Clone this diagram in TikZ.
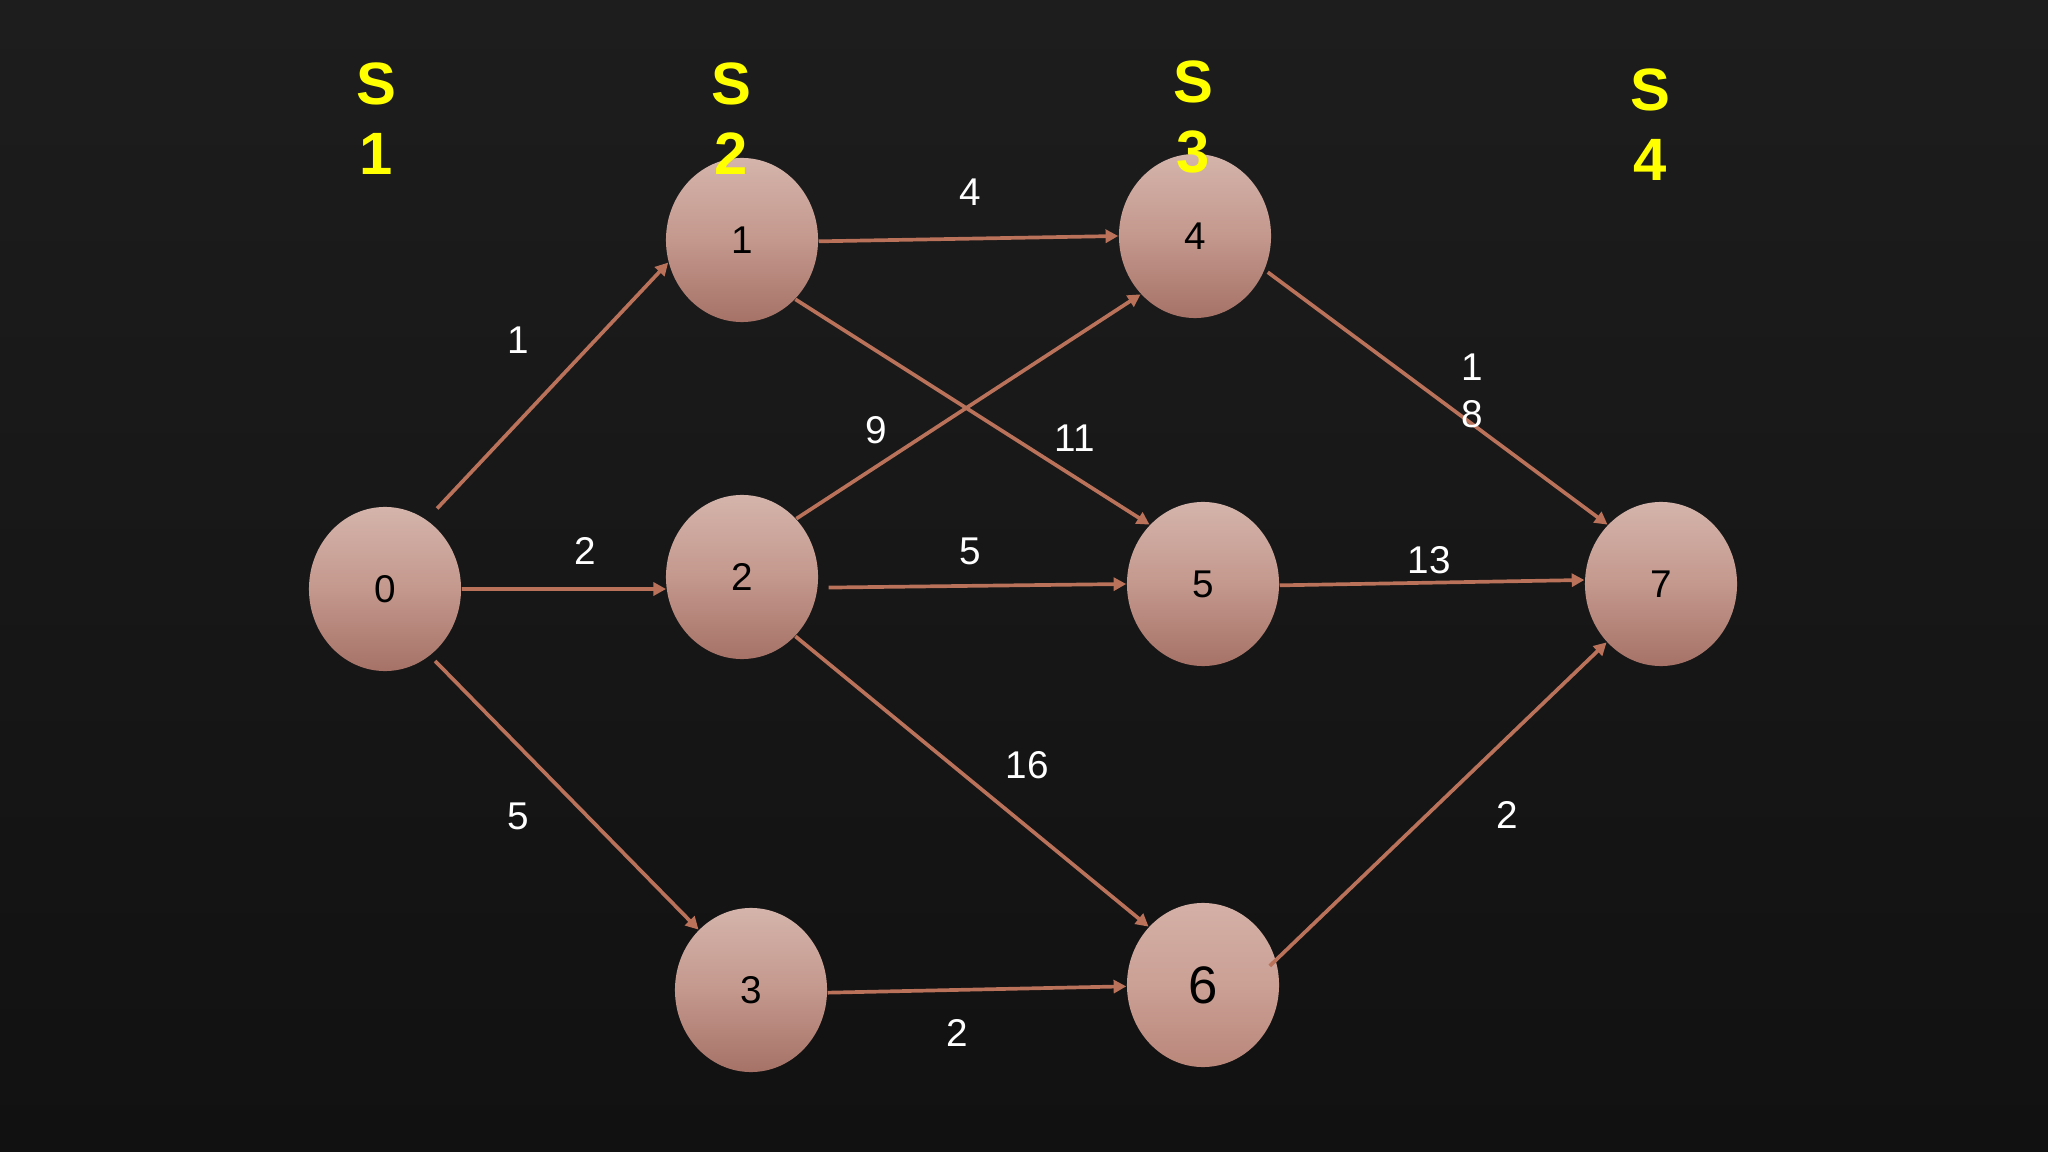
\documentclass[tikz,border=0pt]{standalone}
\usepackage{fontspec}
\setmainfont{Liberation Sans}
\usetikzlibrary{shapes.geometric,arrows.meta}
\definecolor{bgtop}{RGB}{29,29,29}
\definecolor{bgbot}{RGB}{17,17,17}
\definecolor{edgec}{RGB}{186,114,90}
\definecolor{ntop}{RGB}{212,180,171}
\definecolor{nmid}{RGB}{196,152,141}
\definecolor{nbot}{RGB}{166,114,103}
\definecolor{nsixtop}{RGB}{212,176,166}
\definecolor{nsixmid}{RGB}{203,160,149}
\definecolor{nsixbot}{RGB}{186,134,122}
\definecolor{stagec}{RGB}{255,255,0}
\tikzset{
  vert/.style={ellipse, inner sep=0pt, minimum width=1.52cm, minimum height=1.64cm,
    top color=ntop, bottom color=nbot, middle color=nmid, text=black, font=\fontsize{11}{13}\selectfont},
  vertsix/.style={vert, top color=nsixtop, bottom color=nsixbot, middle color=nsixmid, font=\fontsize{15}{18}\selectfont},
  stagelbl/.style={inner sep=0pt, align=center, text=stagec,
    font=\fontsize{17}{19.9}\selectfont\bfseries},
  wlbl/.style={inner sep=0pt, text=white, align=center, font=\fontsize{11}{13.4}\selectfont},
  conn/.style={draw=edgec, line width=1.05pt, -{Triangle[length=3.6pt,width=3.7pt]}}
}
\begin{document}
\begin{tikzpicture}[x=0.01cm,y=-0.01cm]
\useasboundingbox (0,0) rectangle (2048,1152);
\shade[top color=bgtop, bottom color=bgbot] (0,0) rectangle (2048,1152);

% vertices
\node[vert] (n0) at (385,589) {0};
\node[vert] (n1) at (742,240) {1};
\node[vert] (n2) at (742,577) {2};
\node[vert] (n3) at (751,990) {3};
\node[vert] (n4) at (1195,236) {4};
\node[vert] (n5) at (1203,584) {5};
\node[vertsix] (n6) at (1203,985) {6};
\node[vert] (n7) at (1661,584) {7};

% stage labels (drawn over the nodes)
\node[stagelbl] (s1) at (376,119) {S\\1};
\node[stagelbl] (s2) at (731,119) {S\\2};
\node[stagelbl] (s3) at (1193,117) {S\\3};
\node[stagelbl] (s4) at (1650,125) {S\\4};

% connectors
\draw[conn, shorten <=4.3pt] (n0.59) -- (n1.197);
\draw[conn] (n0.0) -- (n2.189);
\draw[conn, shorten <=2pt] (n0.-56) -- (n3.131);
\draw[conn] (n1.-1.5) -- (n4.180);
\draw[conn] (n1.-48.5) -- (n5.132.5);
\draw[conn] (n2.47) -- (n4.227);
\draw[conn, shorten <=3pt] (n2.-8) -- (n5.180);
\draw[conn] (n2.-48) -- (n6.133);
\draw[conn] (n3.-2) -- (n6.181);
\draw[conn, shorten <=1pt] (n4.-26) -- (n7.132);
\draw[conn] (n5.-1.5) -- (n7.177);
\draw[conn, shorten <=-2.5pt] (n6.19) -- (n7.227);

% edge labels
\node[wlbl] (w01) at (518,340) {1};
\node[wlbl] (w02) at (585,551) {2};
\node[wlbl] (w03) at (518,816) {5};
\node[wlbl] (w14) at (970,192) {4};
\node[wlbl] (w24) at (876,430) {9};
\node[wlbl] (w15) at (1075,438) {11};
\node[wlbl] (w25) at (970,551) {5};
\node[wlbl] (w26) at (1027,765) {16};
\node[wlbl] (w36) at (957,1033) {2};
\node[wlbl] (w47) at (1472,391) {1\\8};
\node[wlbl] (w57) at (1429,560) {13};
\node[wlbl] (w67) at (1507,815) {2};
\end{tikzpicture}
\end{document}
